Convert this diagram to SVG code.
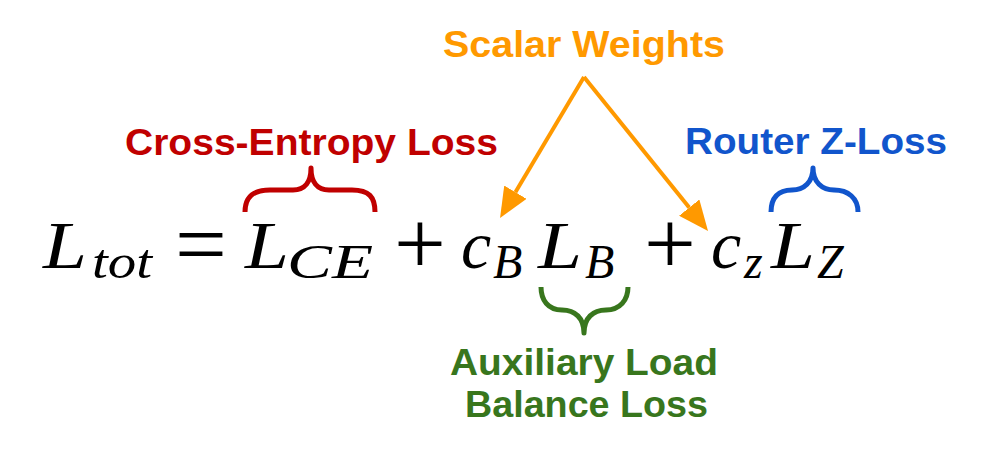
<svg xmlns="http://www.w3.org/2000/svg" width="998" height="476" viewBox="0 0 998 476">
<style>
.lbl{font-family:"Liberation Sans",Arial,sans-serif;font-weight:bold;font-size:37px}
.red{fill:#C00000}.org{fill:#FF9900}.blu{fill:#1155CC}.grn{fill:#38761D}
.mi{font-family:"Liberation Serif","Times New Roman",serif;font-style:italic;fill:#000}
.big{font-size:68px}.sub{font-size:48px}
.op{font-family:"Liberation Serif","Times New Roman",serif;font-size:92px;fill:#000}
.brace{fill:none;stroke-width:5;stroke-linecap:butt;stroke-linejoin:round}
.arrow{stroke:#FF9900;stroke-width:4;fill:none}
</style>
<defs>
<marker id="ah" markerUnits="userSpaceOnUse" markerWidth="30" markerHeight="26" viewBox="0 0 30 26" refX="0" refY="13" orient="auto">
<path d="M0,0 L30,13 L0,26 z" fill="#FF9900"/>
</marker>
</defs>
<rect width="998" height="476" fill="#fff"/>
<g id="equation">
<text class="mi big" x="43" y="268" textLength="44" lengthAdjust="spacingAndGlyphs">L</text>
<text class="mi sub" x="92" y="278" textLength="60" lengthAdjust="spacingAndGlyphs">tot</text>
<text class="op" x="175" y="275">=</text>
<text class="mi big" x="245" y="268" textLength="44" lengthAdjust="spacingAndGlyphs">L</text>
<text class="mi sub" x="287" y="278" textLength="86" lengthAdjust="spacingAndGlyphs">CE</text>
<text class="op" x="394" y="274">+</text>
<text class="mi big" x="461" y="268">c</text>
<text class="mi sub" x="493" y="278">B</text>
<text class="mi big" x="538" y="268" textLength="44" lengthAdjust="spacingAndGlyphs">L</text>
<text class="mi sub" x="585" y="278">B</text>
<text class="op" x="644" y="274">+</text>
<text class="mi big" x="711" y="268">c</text>
<text class="mi sub" x="744" y="278">z</text>
<text class="mi big" x="771" y="268" textLength="44" lengthAdjust="spacingAndGlyphs">L</text>
<text class="mi sub" x="817" y="278">Z</text>
</g>
<g id="label-scalar"><text class="lbl org" x="443" y="57" textLength="282" lengthAdjust="spacingAndGlyphs">Scalar Weights</text></g>
<g id="label-ce"><text class="lbl red" x="125" y="155" textLength="373" lengthAdjust="spacingAndGlyphs">Cross-Entropy Loss</text></g>
<g id="label-z"><text class="lbl blu" x="685" y="154" textLength="262" lengthAdjust="spacingAndGlyphs">Router Z-Loss</text></g>
<g id="label-aux"><text class="lbl grn" x="450" y="375" textLength="268" lengthAdjust="spacingAndGlyphs">Auxiliary Load</text>
<text class="lbl grn" x="465" y="417" textLength="243" lengthAdjust="spacingAndGlyphs">Balance Loss</text></g>
<g id="connectors">
<path class="brace" stroke="#C00000" d="M245,212 C245,197 253,190 270,190 L293,190 C305,190 311,182 311,168 C311,182 317,190 329,190 L352,190 C369,190 375,197 375,212"/>
<path class="brace" stroke="#1155CC" d="M771,212 C771,198 778,190 792,190 C804,190 813,182 813,168 C813,182 822,190 834,190 C848,190 858,198 858,212"/>
<path class="brace" stroke="#38761D" d="M541,287 C541,300 548,310 562,310 C575,310 584,318 584,333 C584,318 593,310 606,310 C620,310 628,300 628,287"/>
<line class="arrow" x1="584" y1="77" x2="515.4" y2="192.2" marker-end="url(#ah)"/>
<line class="arrow" x1="584" y1="77" x2="689.2" y2="207.6" marker-end="url(#ah)"/>
</g>
</svg>
